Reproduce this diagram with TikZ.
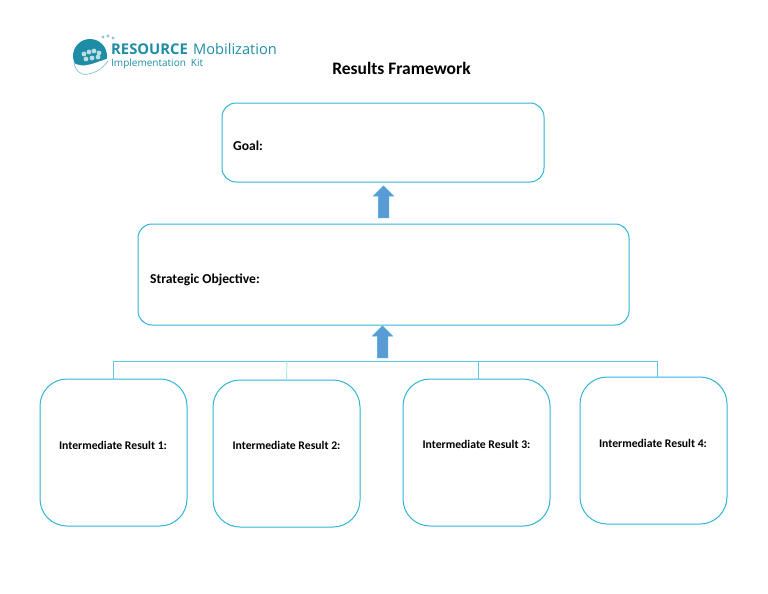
\documentclass[tikz,border=0pt]{standalone}
\usepackage{fontspec}
\setmainfont{Carlito}
\newfontfamily\logofont{Open Sans}
\usetikzlibrary{shapes.arrows}

\definecolor{boxline}{RGB}{45,182,214}
\definecolor{busline}{RGB}{90,200,224}
\definecolor{arrowfill}{RGB}{91,155,213}
\definecolor{arrowline}{RGB}{60,175,220}
\definecolor{logoteal}{RGB}{30,140,165}

\begin{document}
\begin{tikzpicture}[x=1pt,y=-1pt]

% Define styles
\tikzstyle{panel}=[draw=boxline, line width=1pt, fill=white, rounded corners=14pt, inner sep=0pt]
\tikzstyle{resultbox}=[panel, rounded corners=27pt, minimum width=147pt, minimum height=147pt]
\tikzstyle{label}=[font=\bfseries\fontsize{13.6}{16}\selectfont, inner sep=0pt, anchor=west]
\tikzstyle{smalllabel}=[font=\bfseries\fontsize{11.7}{14}\selectfont, inner sep=0pt]
\tikzstyle{uparrow}=[single arrow, draw=arrowline, fill=arrowfill, line width=0.5pt, shape border rotate=90,
  minimum height=32pt, inner sep=5pt, single arrow head extend=5pt]
\tikzstyle{bus}=[draw=busline, line width=0.9pt]

\useasboundingbox (0,0) rectangle (768,594);

% Title
\node[font=\bfseries\fontsize{17.5}{20}\selectfont, inner sep=0pt] (title) at (401.5,68) {Results Framework};

% Boxes
\node[panel, minimum width=322pt, minimum height=79pt] (goal) at (383,142.5) {};
\node[panel, minimum width=491pt, minimum height=101pt] (objective) at (383.5,274.5) {};
\node[resultbox] (ir1) at (113.5,452.5) {};
\node[resultbox] (ir2) at (286.5,453.5) {};
\node[resultbox] (ir3) at (476.5,452.5) {};
\node[resultbox] (ir4) at (653.5,450.5) {};

% Labels
\node[label] (goallabel) at (233,145.5) {Goal:};
\node[label] (objectivelabel) at (150,280) {Strategic Objective:};
\node[smalllabel] (ir1label) at (113,445.5) {Intermediate Result 1:};
\node[smalllabel] (ir2label) at (286.5,445.5) {Intermediate Result 2:};
\node[smalllabel] (ir3label) at (476.5,444) {Intermediate Result 3:};
\node[smalllabel] (ir4label) at (653,443) {Intermediate Result 4:};

% Block arrows
\node[uparrow] (arrowtop) at (383.5,204.5) {};
\node[uparrow] (arrowbottom) at (382.5,344.5) {};

% Bus above the results
\coordinate (busleft) at (113.5,361);
\coordinate (busright) at (657.5,361);
\draw[bus] (busleft) -- (busright);
\draw[bus] (busleft) -- (ir1.north -| busleft);
\draw[bus, draw=busline!50] (287,361) -- (ir2.north);
\draw[bus] (478,361) -- (ir3.north -| 478,361);
\draw[bus] (busright) -- (ir4.north -| busright);

% Logo
\begin{scope}
  \fill[logoteal] (90,56) circle (17);
  \fill[white] (72,62) .. controls (84,70) and (95,62) .. (110,58) .. controls (106,70) and (98,80) .. (85,78) .. controls (78,77) and (74,70) .. (72,62) -- cycle;
  \draw[logoteal!55, line width=0.7pt] (74,62) .. controls (75,70) and (80,76) .. (88,74) .. controls (96,73) and (103,68) .. (108,61);
  \foreach \x/\y in {84/54, 89/52, 94/51, 99/53, 86/59, 92/58, 98/57} {
    \fill[white!70!logoteal] (\x,\y) circle (2.4);
  }
  \foreach \x/\y in {103/37, 108/36, 113/38} {
    \fill[logoteal!50] (\x,\y) circle (1.6);
  }
\end{scope}
\node[font=\logofont\bfseries\fontsize{14.8}{17}\selectfont, text=logoteal, inner sep=0pt, anchor=west] (logoa) at (111,49.5) {RESOURCE};
\node[font=\logofont\fontsize{14.6}{17}\selectfont, text=logoteal, inner sep=0pt, anchor=west] (logob) at (193,49.5) {Mobilization};
\node[font=\logofont\fontsize{10}{12}\selectfont, text=logoteal, inner sep=0pt, anchor=west] (logoc) at (111,64) {Implementation\hspace{5pt}Kit};

\end{tikzpicture}
\end{document}
